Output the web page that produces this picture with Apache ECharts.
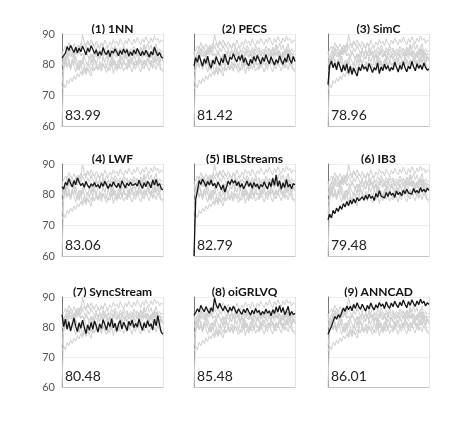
<!DOCTYPE html>
<html>
<head>
    <meta charset="utf-8">
    <title>small multiples</title>
    <script src="https://cdn.jsdelivr.net/npm/echarts@6/dist/echarts.min.js"></script>
</head>
<body style="margin:0;background:#fff">
    <div id="main" style="width:474px;height:434px"></div>
    <script type="text/javascript">
        // panel names and the value printed in each panel
        var names = ['(1) 1NN', '(2) PECS', '(3) SimC', '(4) LWF', '(5) IBLStreams', '(6) IB3', '(7) SyncStream', '(8) oiGRLVQ', '(9) ANNCAD'];
        var scores = ['83.99', '81.42', '78.96', '83.06', '82.79', '79.48', '80.48', '85.48', '86.01'];
        var yTicks = [60, 70, 80, 90];

        // accuracy curves (one per method)
        var s1 = [82.1, 81.5, 83.8, 85.9, 84.6, 86.3, 85.1, 84.0, 85.7, 83.9, 85.4, 84.2, 86.0, 84.8, 83.2, 85.5, 84.1, 86.2, 85.0, 83.6, 84.9, 82.8, 84.3, 83.1, 85.6, 84.0, 83.3, 84.7, 82.6, 84.5, 83.8, 85.2, 84.1, 82.9, 84.6, 83.4, 85.1, 83.7, 84.9, 82.7, 84.2, 83.0, 84.8, 83.5, 85.3, 84.0, 82.9, 84.4, 83.1, 84.7, 83.6, 82.5, 84.3, 83.2, 85.8, 84.1, 82.9, 84.0, 82.6, 82.2];
        var s2 = [79.6, 82.3, 80.8, 83.1, 81.2, 79.5, 81.9, 80.4, 82.8, 80.1, 78.9, 81.5, 80.2, 82.6, 81.0, 79.8, 82.1, 80.6, 83.4, 81.3, 80.0, 82.5, 81.7, 83.6, 82.0, 80.9, 82.8, 81.4, 83.2, 80.7, 82.3, 80.5, 79.7, 81.8, 80.4, 82.7, 81.1, 83.0, 81.6, 80.2, 82.4, 81.0, 83.3, 81.5, 80.3, 82.6, 81.2, 79.9, 81.7, 80.5, 82.9, 81.3, 80.1, 82.2, 80.8, 83.5, 81.6, 80.4, 82.7, 81.0];
        var s3 = [73.5, 79.8, 81.2, 79.0, 80.5, 78.3, 81.0, 79.4, 77.6, 79.9, 78.1, 80.3, 77.2, 79.5, 76.8, 78.9, 77.5, 76.3, 79.2, 78.0, 80.1, 78.6, 79.3, 77.8, 80.4, 78.9, 77.4, 79.0, 78.2, 80.6, 77.1, 79.3, 78.0, 80.2, 78.5, 79.7, 77.9, 79.1, 78.3, 80.8, 79.2, 77.6, 79.8, 78.4, 80.9, 79.0, 77.7, 79.5, 78.6, 81.1, 79.3, 78.0, 80.3, 78.8, 79.9, 78.4, 80.6, 79.1, 78.2, 78.7];
        var s4 = [82.6, 81.8, 84.0, 83.1, 85.2, 83.7, 82.5, 84.6, 83.2, 85.5, 84.1, 82.9, 83.8, 82.4, 84.3, 83.0, 82.2, 83.6, 82.8, 84.0, 82.5, 83.3, 82.1, 83.9, 82.7, 84.4, 83.2, 82.0, 83.5, 82.6, 84.2, 83.0, 82.3, 83.7, 82.1, 84.5, 83.4, 82.2, 83.8, 82.9, 84.1, 83.0, 82.4, 83.6, 82.8, 84.7, 83.2, 82.0, 83.9, 82.6, 84.3, 83.5, 82.2, 84.8, 83.1, 85.0, 82.9, 83.6, 81.9, 81.6];
        var s5 = [60.0, 78.5, 81.2, 84.6, 83.3, 85.1, 84.0, 82.7, 84.3, 83.1, 84.8, 82.9, 83.7, 82.2, 84.1, 83.0, 81.6, 83.2, 80.8, 82.5, 84.4, 83.3, 85.0, 83.8, 84.6, 82.9, 84.2, 82.4, 83.6, 81.9, 83.1, 84.5, 82.7, 83.9, 82.1, 84.0, 82.6, 83.5, 81.8, 83.3, 82.5, 84.2, 82.8, 81.9, 84.1, 82.6, 85.3, 83.0, 86.4, 82.7, 84.6, 81.7, 83.8, 82.3, 84.9, 82.5, 83.4, 81.9, 83.6, 83.2];
        var s6 = [71.8, 73.6, 72.4, 74.9, 73.8, 75.6, 74.5, 76.3, 75.2, 77.1, 76.0, 77.8, 76.4, 78.2, 77.0, 78.6, 77.3, 79.1, 78.0, 77.4, 79.3, 78.2, 79.8, 78.5, 80.1, 78.8, 79.5, 78.1, 80.4, 79.2, 81.3, 79.6, 80.0, 78.9, 80.7, 79.4, 81.0, 79.8, 80.5, 79.1, 81.2, 80.0, 80.8, 79.6, 81.5, 80.3, 81.8, 80.6, 81.1, 80.2, 82.0, 80.7, 81.4, 80.5, 82.3, 81.0, 81.7, 80.8, 82.1, 81.4];
        var s7 = [84.2, 80.1, 82.6, 79.3, 81.8, 78.7, 80.9, 83.0, 80.2, 78.5, 81.4, 79.6, 82.3, 80.0, 77.8, 80.7, 78.9, 81.5, 79.2, 82.0, 80.4, 78.3, 81.1, 79.5, 82.5, 80.8, 79.0, 81.7, 80.1, 82.8, 79.7, 81.3, 78.6, 80.9, 82.2, 79.4, 81.6, 80.3, 78.8, 81.9, 80.5, 82.4, 79.8, 81.2, 80.0, 82.7, 80.6, 78.9, 81.4, 79.7, 82.1, 80.2, 81.0, 79.1, 82.6, 80.4, 83.8, 80.7, 78.2, 77.6];
        var s8 = [83.9, 84.8, 86.1, 85.0, 87.2, 86.0, 85.1, 86.8, 85.5, 84.6, 86.4, 85.2, 89.8, 87.3, 86.2, 87.9, 86.5, 85.4, 87.0, 85.8, 84.9, 86.6, 85.3, 86.9, 85.7, 84.5, 86.1, 85.0, 84.2, 85.9, 84.7, 86.3, 85.1, 84.0, 85.6, 84.4, 86.2, 84.8, 85.5, 83.9, 85.2, 84.3, 86.0, 84.6, 85.4, 83.7, 85.8, 84.5, 86.7, 85.0, 87.1, 84.8, 86.5, 84.1, 85.3, 86.9, 83.8, 85.2, 84.1, 84.6];
        var s9 = [77.6, 78.9, 80.2, 81.8, 83.5, 82.6, 84.1, 83.2, 84.8, 86.3, 85.2, 87.0, 85.8, 86.9, 85.4, 87.5, 86.2, 88.1, 86.7, 85.9, 87.6, 86.4, 85.3, 87.2, 86.0, 88.0, 86.6, 85.7, 87.4, 86.3, 88.2, 86.9, 87.7, 86.1, 88.4, 87.0, 86.2, 88.0, 86.8, 88.6, 87.3, 86.5, 88.3, 87.1, 89.0, 87.6, 86.4, 88.5, 87.2, 89.1, 87.8, 86.9, 88.7, 87.4, 89.3, 87.9, 88.6, 87.0, 88.1, 87.5];
        var runs = [s1, s2, s3, s4, s5, s6, s7, s8, s9];

        var colLeft = [62, 194, 328];
        var rowTop = [34, 164, 297];
        var rowH = [92, 92, 90];
        var plotW = 101;
        var N = s1.length;

        function pairs(arr) {
            return arr.map(function (v, i) { return [i + 1, v]; });
        }

        var grids = [], xAxes = [], yAxes = [], series = [], graphics = [];
        for (var p = 0; p < 9; p++) {
            var c = p % 3, r = Math.floor(p / 3);
            grids.push({ left: colLeft[c], top: rowTop[r], width: plotW, height: rowH[r] });
            xAxes.push({
                gridIndex: p, type: 'value', min: 1, max: N, interval: N - 1,
                axisLine: { show: true, lineStyle: { color: '#c4c4c4', width: 1 } },
                axisTick: { show: false }, axisLabel: { show: false },
                splitLine: { show: true, lineStyle: { color: '#e2e2e2', width: 1 } }
            });
            yAxes.push({
                gridIndex: p, type: 'value', min: yTicks[0], max: yTicks[yTicks.length - 1], interval: 10,
                axisLine: { show: true, lineStyle: { color: '#777', width: 1 } },
                axisTick: { show: false },
                axisLabel: { show: c === 0, color: '#555', fontSize: 11, fontFamily: 'Lato', margin: 7 },
                splitLine: { show: true, lineStyle: { color: '#eeeeee', width: 1 } }
            });
            // the other methods in light gray
            for (var j = 0; j < 9; j++) {
                if (j === p) continue;
                series.push({
                    type: 'line', xAxisIndex: p, yAxisIndex: p, data: pairs(runs[j]),
                    symbol: 'none', silent: true, z: 2,
                    lineStyle: { color: '#cfcfcf', width: 1 }
                });
            }
            // highlighted method in black
            series.push({
                type: 'line', xAxisIndex: p, yAxisIndex: p, data: pairs(runs[p]),
                symbol: 'none', silent: true, z: 5,
                lineStyle: { color: '#151515', width: 1.3 }
            });
            graphics.push({
                type: 'text', x: colLeft[c] + plotW / 2, y: rowTop[r] - 5,
                style: { text: names[p], font: 'bold 12px Lato', fill: '#111', textAlign: 'center', textVerticalAlign: 'middle' }
            });
            graphics.push({
                type: 'text', x: colLeft[c] + 3, y: rowTop[r] + rowH[r] - 11,
                style: { text: scores[p], font: '14px Lato', fill: '#222', textAlign: 'left', textVerticalAlign: 'middle' }
            });
        }

        var chart = echarts.init(document.getElementById('main'));
        chart.setOption({
            animation: false,
            backgroundColor: '#fff',
            grid: grids,
            xAxis: xAxes,
            yAxis: yAxes,
            series: series,
            graphic: graphics
        });
    </script>
</body>
</html>
